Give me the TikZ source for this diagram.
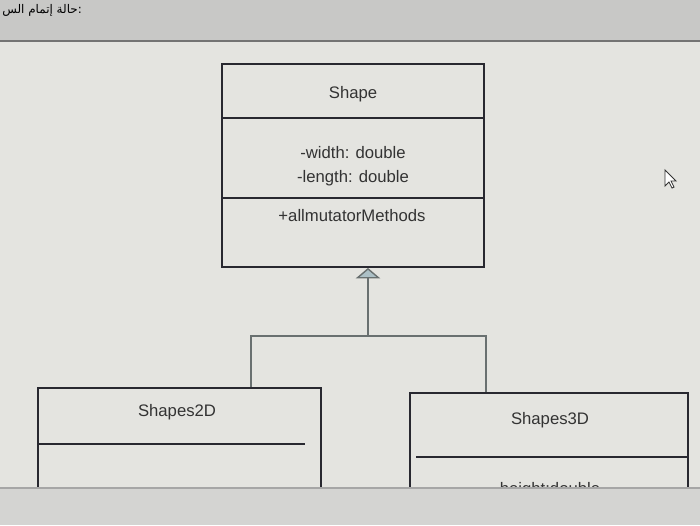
\documentclass[tikz,border=0pt]{standalone}
\usepackage{fontspec}
\setmainfont{Liberation Sans}
\newfontfamily\arabicfont[Script=Arabic]{DejaVu Sans}
\TeXXeTstate=1
\usetikzlibrary{arrows.meta}
\definecolor{screen}{RGB}{228,228,224}
\definecolor{topbar}{RGB}{200,200,198}
\definecolor{band}{RGB}{212,212,210}
\definecolor{boxline}{RGB}{40,40,48}
\definecolor{linkline}{RGB}{105,112,112}
\definecolor{tipfill}{RGB}{172,192,198}

\begin{document}
\begin{tikzpicture}[x=0.02cm,y=-0.02cm,
  class box/.style={draw=boxline,line width=1.1pt,inner sep=0pt},
  divider/.style={draw=boxline,line width=0.9pt},
  label text/.style={font=\fontsize{9.5}{12}\selectfont,text=black!80,inner sep=0pt},
  link/.style={draw=linkline,line width=0.8pt}]
  \clip (0,0) rectangle (700,525);
  \fill[screen] (0,0) rectangle (700,525);
  \fill[topbar] (0,0) rectangle (700,41);
  \draw[black!55,line width=0.6pt] (0,41) -- (700,41);
  \node[anchor=west,inner sep=0pt,font=\fontsize{6.8}{8}\selectfont] (status) at (2,10) {\arabicfont\beginR حالة إتمام الس\endR:};

  % classes
  \node[class box,minimum width=5.24cm,minimum height=4.06cm] (shape) at (353,165.5) {};
  \node[class box,minimum width=5.66cm,minimum height=2.64cm] (shapes2d) at (179.5,454) {};
  \node[class box,minimum width=5.56cm,minimum height=2.54cm] (shapes3d) at (549,456.5) {};

  \draw[divider] (222,118) -- (484,118);
  \draw[divider] (222,198) -- (484,198);
  \draw[divider] (38,444) -- (305,444);
  \draw[divider] (416,457) -- (688,457);

  \node[label text] (shapename) at (353,94) {Shape};
  \node[label text,align=center] (shapefields) at (353,166) {-width: double\\[1.5pt]-length: double};
  \node[label text] (shapemethods) at (352,216) {+allmutatorMethods};
  \node[label text] (name2d) at (177,412) {Shapes2D};
  \node[label text] (name3d) at (550,420) {Shapes3D};
  \node[label text,anchor=base] (height3d) at (550,494) {height:double};

  % inheritance
  \coordinate (fork) at (368,336);
  \coordinate (leftturn) at (251,336);
  \coordinate (rightturn) at (486,336);
  \draw[link,-{Triangle[length=6pt,width=14pt,fill=tipfill]}] (fork) -- (fork |- shape.south);
  \draw[link] (shapes2d.north -| leftturn) -- (leftturn) -- (rightturn) -- (shapes3d.north -| rightturn);

  % screen edge
  \fill[band] (0,488) rectangle (700,525);
  \draw[black!35,line width=0.6pt] (0,488) -- (700,488);

  % pointer
  \draw[black!80,fill=white,line width=0.5pt,shift={(665,170)}]
    (0,0) -- (0,16) -- (4,12) -- (7,18) -- (9,17) -- (6,11) -- (11,11) -- cycle;
\end{tikzpicture}
\end{document}
